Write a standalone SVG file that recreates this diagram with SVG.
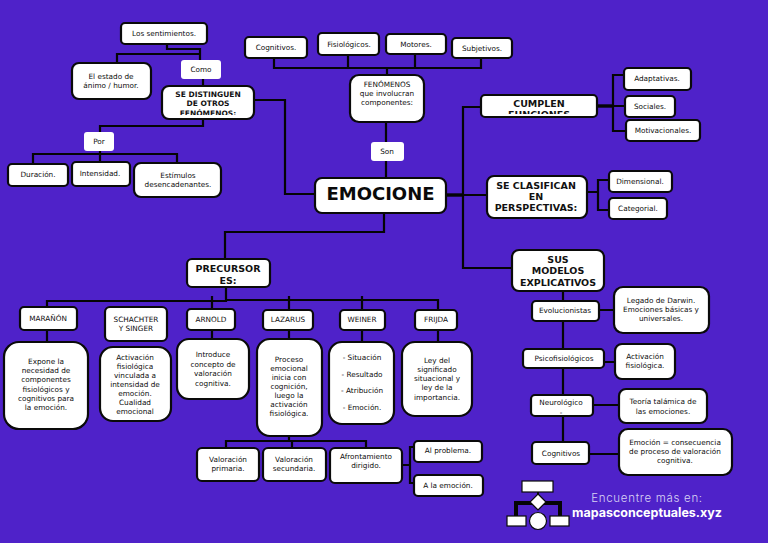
<svg xmlns="http://www.w3.org/2000/svg" width="768" height="543" viewBox="0 0 768 543">
<style>
.b{fill:#fff;stroke:#0a0a0a;stroke-width:2.2}
.w{fill:#fff;stroke:none}
text{font-family:"DejaVu Sans",sans-serif;font-size:7.300px;fill:#0d0d0d;text-anchor:middle}
.h{font-weight:700;font-size:9.500px;fill:#111}
.d{font-weight:700;font-size:7.500px;fill:#111}
.c path{fill:none;stroke:#050505;stroke-width:2.2}
.c path.t{stroke-width:3.400}
.logo{fill:#fff;stroke:#0a0a0a;stroke-width:1.200}
</style>
<defs>
<clipPath id="c1"><rect x="162" y="86" width="92" height="29"/></clipPath>
<clipPath id="c2"><rect x="481" y="95" width="116" height="19"/></clipPath>
</defs>
<rect width="768" height="543" fill="#4f22c9"/>
<g class="c" id="connectors">
<path d="M167 44V49H200V60M117 63V54H200M203 79V86M203 119V126H100V132M100 151V154M33 164V154H177V163M100 154V162"/>
<path d="M254 100H285V194H315"/>
<path d="M274 58V68H481V58M348 55V68M415 54V68M387 68V75M386 122V178"/>
<path class="t" d="M446 195H463"/>
<path d="M463 195H487M481 107H463V268H512"/>
<path class="t" d="M597 106H613"/>
<path d="M624 75H613V131H626M613 106H625"/>
<path d="M587 192H598M609 180H598V210H609"/>
<path d="M563 291V442M599 310H614M604 362H615M593 405H619M589 454H619"/>
<path d="M384 213V232H225V259M226 287V301H47V307M226 300H438V310"/>
<path d="M212 296V309M289 296V310M362 296V310M47 330V342M212 330V339M289 330V339M362 330V342M438 330V342"/>
<path d="M289 436V441M226 448V441H366V448M292 441V448"/>
<path d="M402 465H410M414 447H410V483H414"/>
</g>
<g id="n-sentimientos"><rect class="b" x="121" y="23" width="86" height="21" rx="4"/><text x="164" y="35.500">Los sentimientos.</text></g>
<g id="n-estado"><rect class="b" x="72" y="63" width="79" height="36" rx="7"/><text x="111" y="79">El estado de</text><text x="111" y="88">ánimo / humor.</text></g>
<g id="n-como"><rect class="w" x="181" y="60" width="40" height="19" rx="3"/><text x="201" y="72">Como</text></g>
<g id="n-distinguen"><rect class="b" x="162" y="86" width="92" height="33" rx="7"/><g clip-path="url(#c1)"><text class="d" x="208" y="97">SE DISTINGUEN</text><text class="d" x="208" y="106">DE OTROS</text><text class="d" x="208" y="116">FENÓMENOS:</text></g></g>
<g id="n-por"><rect class="w" x="84" y="132" width="30" height="19" rx="3"/><text x="99" y="144">Por</text></g>
<g id="n-duracion"><rect class="b" x="8" y="164" width="60" height="22" rx="4"/><text x="38" y="177">Duración.</text></g>
<g id="n-intensidad"><rect class="b" x="72" y="162" width="58" height="24" rx="4"/><text x="100" y="176">Intensidad.</text></g>
<g id="n-estimulos"><rect class="b" x="134" y="163" width="87" height="34" rx="7"/><text x="178" y="178">Estímulos</text><text x="178" y="187">desencadenantes.</text></g>
<g id="n-cognitivos"><rect class="b" x="245" y="37" width="62" height="21" rx="4"/><text x="276" y="50">Cognitivos.</text></g>
<g id="n-fisiologicos"><rect class="b" x="318" y="33" width="61" height="22" rx="4"/><text x="349" y="46.500">Fisiológicos.</text></g>
<g id="n-motores"><rect class="b" x="386" y="34" width="60" height="20" rx="4"/><text x="416" y="46.500">Motores.</text></g>
<g id="n-subjetivos"><rect class="b" x="452" y="38" width="60" height="20" rx="4"/><text x="482" y="51">Subjetivos.</text></g>
<g id="n-fenomenos"><rect class="b" x="350" y="75" width="74" height="47" rx="9"/><text x="387" y="87">FENÓMENOS</text><text x="387" y="96">que involucran</text><text x="387" y="105">componentes:</text></g>
<g id="n-son"><rect class="w" x="371" y="142" width="33" height="19" rx="3"/><text x="387" y="154">Son</text></g>
<g id="n-emocione"><rect class="b" x="315" y="178" width="131" height="35" rx="7"/><text x="380.500" y="200" style="font-weight:700;font-size:18px;fill:#0a0a0a">EMOCIONE</text></g>
<g id="n-cumplen"><rect class="b" x="481" y="95" width="116" height="22" rx="4"/><g clip-path="url(#c2)"><text class="h" x="539" y="107">CUMPLEN</text><text class="h" x="539" y="118">FUNCIONES</text></g></g>
<g id="n-adaptativas"><rect class="b" x="624" y="68" width="67" height="22" rx="4"/><text x="657" y="81">Adaptativas.</text></g>
<g id="n-sociales"><rect class="b" x="625" y="96" width="50" height="21" rx="4"/><text x="650" y="108.500">Sociales.</text></g>
<g id="n-motivacionales"><rect class="b" x="626" y="120" width="74" height="21" rx="4"/><text x="663" y="133">Motivacionales.</text></g>
<g id="n-clasifican"><rect class="b" x="487" y="176" width="100" height="42" rx="7"/><text class="h" x="536" y="189">SE CLASIFICAN</text><text class="h" x="536" y="200">EN</text><text class="h" x="536" y="211">PERSPECTIVAS:</text></g>
<g id="n-dimensional"><rect class="b" x="609" y="171" width="63" height="21" rx="4"/><text x="640" y="183.500">Dimensional.</text></g>
<g id="n-categorial"><rect class="b" x="609" y="198" width="58" height="21" rx="4"/><text x="638" y="210.500">Categorial.</text></g>
<g id="n-modelos"><rect class="b" x="512" y="250" width="92" height="41" rx="7"/><text class="h" x="558" y="263">SUS</text><text class="h" x="558" y="274">MODELOS</text><text class="h" x="558" y="286">EXPLICATIVOS</text></g>
<g id="n-precursores"><rect class="b" x="187" y="259" width="83" height="28" rx="5"/><text class="h" x="228" y="272">PRECURSOR</text><text class="h" x="228" y="284">ES:</text></g>
<g id="n-maranon"><rect class="b" x="20" y="307" width="57" height="23" rx="4"/><text x="48" y="321">MARAÑÓN</text></g>
<g id="n-schachter"><rect class="b" x="105" y="307" width="62" height="34" rx="5"/><text x="136" y="322">SCHACHTER</text><text x="136" y="331">Y SINGER</text></g>
<g id="n-arnold"><rect class="b" x="187" y="309" width="48" height="21" rx="4"/><text x="211" y="322">ARNOLD</text></g>
<g id="n-lazarus"><rect class="b" x="263" y="310" width="50" height="20" rx="4"/><text x="288" y="322">LAZARUS</text></g>
<g id="n-weiner"><rect class="b" x="340" y="310" width="45" height="20" rx="4"/><text x="362" y="322">WEINER</text></g>
<g id="n-frijda"><rect class="b" x="415" y="310" width="42" height="20" rx="4"/><text x="436" y="322">FRIJDA</text></g>
<g id="n-expone"><rect class="b" x="4" y="342" width="84" height="87" rx="15"/><text x="46" y="364">Expone la</text><text x="46" y="373">necesidad de</text><text x="46" y="382">componentes</text><text x="46" y="392">fisiológicos y</text><text x="46" y="401">cognitivos para</text><text x="46" y="410">la emoción.</text></g>
<g id="n-activacion"><rect class="b" x="100" y="347" width="71" height="74" rx="13"/><text x="135" y="360">Activación</text><text x="135" y="369">fisiológica</text><text x="135" y="378">vinculada a</text><text x="135" y="387">intensidad de</text><text x="135" y="396">emoción.</text><text x="135" y="405">Cualidad</text><text x="135" y="414">emocional</text></g>
<g id="n-introduce"><rect class="b" x="177" y="339" width="72" height="60" rx="12"/><text x="213" y="357">Introduce</text><text x="213" y="367">concepto de</text><text x="213" y="376">valoración</text><text x="213" y="386">cognitiva.</text></g>
<g id="n-proceso"><rect class="b" x="257" y="339" width="65" height="97" rx="13"/><text x="289" y="362">Proceso</text><text x="289" y="371">emocional</text><text x="289" y="380">inicia con</text><text x="289" y="389">cognición,</text><text x="289" y="398">luego la</text><text x="289" y="407">activación</text><text x="289" y="416">fisiológica.</text></g>
<g id="n-situacion"><rect class="b" x="329" y="342" width="65" height="82" rx="13"/><text x="362" y="360">- Situación</text><text x="362" y="377">- Resultado</text><text x="362" y="393">- Atribución</text><text x="362" y="410">- Emoción.</text></g>
<g id="n-ley"><rect class="b" x="402" y="342" width="70" height="74" rx="13"/><text x="437" y="363">Ley del</text><text x="437" y="372">significado</text><text x="437" y="381">situacional y</text><text x="437" y="390">ley de la</text><text x="437" y="400">importancia.</text></g>
<g id="n-primaria"><rect class="b" x="197" y="448" width="62" height="33" rx="5"/><text x="228" y="462">Valoración</text><text x="228" y="471">primaria.</text></g>
<g id="n-secundaria"><rect class="b" x="263" y="448" width="63" height="33" rx="5"/><text x="294" y="462">Valoración</text><text x="294" y="471">secundaria.</text></g>
<g id="n-afrontamiento"><rect class="b" x="330" y="448" width="72" height="35" rx="5"/><text x="366" y="459">Afrontamiento</text><text x="366" y="468">dirigido.</text></g>
<g id="n-problema"><rect class="b" x="414" y="441" width="68" height="21" rx="4"/><text x="448" y="453">Al problema.</text></g>
<g id="n-aemocion"><rect class="b" x="414" y="475" width="69" height="21" rx="4"/><text x="448" y="488">A la emoción.</text></g>
<g id="n-evolucionistas"><rect class="b" x="532" y="301" width="67" height="20" rx="4"/><text x="565" y="313">Evolucionistas</text></g>
<g id="n-legado"><rect class="b" x="614" y="287" width="95" height="46" rx="9"/><text x="661" y="303">Legado de Darwin.</text><text x="661" y="312">Emociones básicas y</text><text x="661" y="321">universales.</text></g>
<g id="n-psico"><rect class="b" x="523" y="349" width="81" height="19" rx="4"/><text x="564" y="361">Psicofisiológicos</text></g>
<g id="n-activ2"><rect class="b" x="615" y="344" width="60" height="35" rx="7"/><text x="645" y="359">Activación</text><text x="645" y="368">fisiológica.</text></g>
<g id="n-neuro"><rect class="b" x="531" y="395" width="62" height="21" rx="4"/><text x="561" y="405">Neurológico</text><text x="561" y="415">-</text></g>
<g id="n-teoria"><rect class="b" x="619" y="389" width="88" height="34" rx="7"/><text x="663" y="404">Teoría talámica de</text><text x="663" y="414">las emociones.</text></g>
<g id="n-cogn2"><rect class="b" x="532" y="442" width="57" height="22" rx="4"/><text x="561" y="456">Cognitivos</text></g>
<g id="n-emocion"><rect class="b" x="619" y="429" width="113" height="46" rx="9"/><text x="675" y="445">Emoción = consecuencia</text><text x="675" y="454">de proceso de valoración</text><text x="675" y="463">cognitiva.</text></g>
<g id="logo">
<path d="M516 521V503H560V521" fill="none" stroke="#050505" stroke-width="4"/>
<path d="M538 492V510" fill="none" stroke="#050505" stroke-width="2"/>
<rect class="logo" x="522" y="481" width="31" height="11"/>
<path class="logo" d="M538 494L546 502L538 510L530 502Z"/>
<circle class="logo" cx="538" cy="521" r="8.500"/>
<rect class="logo" x="507" y="516" width="19" height="10"/>
<rect class="logo" x="550" y="516" width="19" height="10"/>
<text x="647" y="501.500" style="font-family:Inter,sans-serif;font-size:11.500px;font-weight:300;letter-spacing:.7px;fill:#d9d2f4">Encuentre más en:</text>
<text x="647" y="517" style="font-family:Inter,sans-serif;font-size:12.500px;font-weight:700;fill:#fff">mapasconceptuales.xyz</text>
</g>
</svg>
